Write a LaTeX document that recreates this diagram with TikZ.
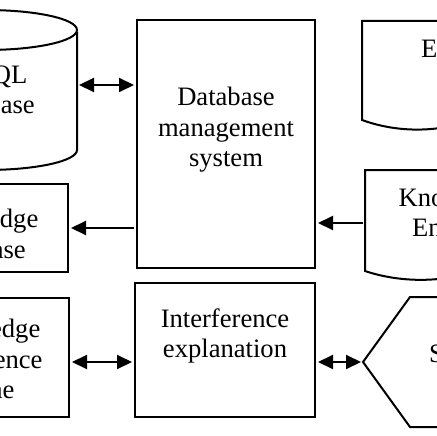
\documentclass[tikz,border=0pt]{standalone}
\usepackage{fontspec}
\setmainfont{Liberation Serif}
\usetikzlibrary{arrows.meta,positioning}

\begin{document}
\begin{tikzpicture}[x=1pt,y=1pt,>={Triangle[length=15pt 0 0,width=14pt 0 0]},line width=2pt,
    shorten >=2pt,shorten <=2pt,
    every node/.style={font=\fontsize{26.6}{30.5}\selectfont,align=center,inner sep=0pt},
    box/.style={draw,rectangle,line width=2pt}]
  \useasboundingbox (0,0) rectangle (436,-436);

  \node[box,minimum width=178pt,minimum height=248pt] (dbms)   at (226,-144)   {};
  \node[box,minimum width=180pt,minimum height=134pt] (interf) at (225,-350)   {};
  \node[box,minimum width=182pt,minimum height=88pt]  (kb)     at (-23,-228)   {};
  \node[box,minimum width=180pt,minimum height=119pt] (kie)    at (-21,-357.5) {};

  % cylinder
  \draw (-14,-30) ellipse [x radius=91, y radius=20];
  \draw (77,-30) -- (77,-150) arc [start angle=0, end angle=-180, x radius=91, y radius=20] -- (-105,-30);
  \coordinate (cyl) at (77,-85);

  % documents
  \draw (545,-21) -- (362,-21) -- (362,-120) .. controls (395,-132) and (430,-132) .. (460,-124)
        .. controls (490,-116) and (520,-110) .. (545,-112) -- cycle;
  \draw (555,-170) -- (365,-170) -- (365,-271) .. controls (398,-282) and (433,-282) .. (463,-275)
        .. controls (493,-267) and (523,-261) .. (555,-263) -- cycle;
  \coordinate (ke) at (365,-223);

  % display
  \draw (545,-297) -- (410,-297) -- (363,-362) -- (410,-427) -- (545,-427);
  \coordinate (disp) at (363,-362);

  \node (dbmstxt)   at (226,-130) {Database\\management\\system};
  \node (interftxt) at (225,-336) {Interference\\explanation};
  \node (nosqltxt)  at (-14,-90)  {NoSQL\\Database};
  \node (kbtxt)     at (-23,-234) {Knowledge\\Database};
  \node (kietxt)    at (-21,-362) {Knowledge\\interference\\engine};
  \node (ketxt)     at (460,-215) {Knowledge\\Engineer};
  \node[anchor=base west] (exptxt)  at (420,-57)  {Expert};
  \node[anchor=base west] (disptxt) at (428,-362) {System};

  \path[<->] (cyl) edge (cyl -| dbms.west);
  \path[->]  (dbms.west |- kb.east) edge (kb.east);
  \path[->]  (ke) edge (ke -| dbms.east);
  \path[<->] (disp -| kie.east) edge (disp -| interf.west);
  \path[<->] (disp -| interf.east) edge (disp);
\end{tikzpicture}
\end{document}
